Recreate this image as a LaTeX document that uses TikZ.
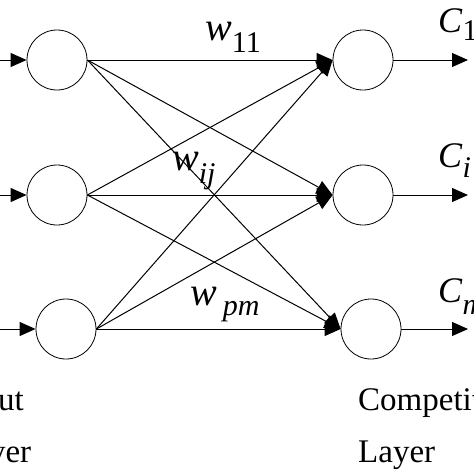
\documentclass[tikz,border=0pt]{standalone}
\usepackage{fontspec}
\setmainfont{Liberation Serif}
\usetikzlibrary{arrows.meta,positioning}
\tikzset{
neuron/.style = {draw, circle, line width=0.8pt, minimum size=60pt, inner sep=0pt},
tmp/.style    = {coordinate},
conn/.style   = {-{Triangle[length=16pt,width=14pt]}, line width=1pt},
wlab/.style   = {anchor=base west, inner sep=0pt, font=\fontsize{40}{48}\selectfont},
clab/.style   = {anchor=base west, inner sep=0pt, font=\fontsize{36}{44}\selectfont},
layerlab/.style = {anchor=base west, inner sep=0pt, align=left, font=\fontsize{33}{52}\selectfont}
}

\begin{document}
\begin{tikzpicture}[x=1pt, y=1pt]
  \useasboundingbox (0,0) rectangle (474,-474);

  % input layer
  \node [neuron] (in1) at (57,-60) {};
  \node [neuron, below of=in1, node distance=135pt]             (in2) {};
  \node [neuron, below of=in2, node distance=134pt, xshift=9pt] (in3) {};
  \node [tmp, left of=in1, node distance=70pt] (x1) {};
  \node [tmp, left of=in2, node distance=70pt] (x2) {};
  \node [tmp, left of=in3, node distance=79pt] (x3) {};

  % competitive layer
  \node [neuron, right of=in1, node distance=306pt] (out1) {};
  \node [neuron, right of=in2, node distance=306pt] (out2) {};
  \node [neuron, right of=in3, node distance=305pt] (out3) {};
  \node [tmp, right of=out1, node distance=105pt] (c1) {};
  \node [tmp, right of=out2, node distance=105pt] (c2) {};
  \node [tmp, right of=out3, node distance=97pt]  (c3) {};

  \draw [conn] (x1) -- (in1);
  \draw [conn] (x2) -- (in2);
  \draw [conn] (x3) -- (in3);
  \draw [conn] (out1) -- (c1);
  \draw [conn] (out2) -- (c2);
  \draw [conn] (out3) -- (c3);

  \draw [conn] (in1.east) -- (out1.west);
  \draw [conn] (in1.east) -- (out2.west);
  \draw [conn] (in1.east) -- (out3.west);
  \draw [conn] (in2.east) -- (out1.west);
  \draw [conn] (in2.east) -- (out2.west);
  \draw [conn] (in2.east) -- (out3.west);
  \draw [conn] (in3.east) -- (out1.west);
  \draw [conn] (in3.east) -- (out2.west);
  \draw [conn] (in3.east) -- (out3.west);

  % weights and outputs
  \node [wlab] (w11) at (205,-40)  {\textit{w}\raisebox{-12pt}{\fontsize{30}{36}\selectfont 11}};
  \node [wlab] (wij) at (172,-170) {\textit{w}\raisebox{-13pt}{\fontsize{30}{36}\selectfont\textit{ij}}};
  \node [wlab] (wpm) at (190,-305) {\textit{w}\hspace{6pt}\raisebox{-10pt}{\fontsize{30}{36}\selectfont\textit{pm}}};
  \node [clab] (C1) at (438,-32)  {\textit{C}\raisebox{-8pt}{\fontsize{30}{36}\selectfont 1}};
  \node [clab] (Ci) at (438,-167) {\textit{C}\raisebox{-10pt}{\fontsize{30}{36}\selectfont\textit{i}}};
  \node [clab] (Cm) at (438,-302) {\textit{C}\raisebox{-12pt}{\fontsize{30}{36}\selectfont\textit{m}}};

  \node [layerlab] (inlab)   at (-46,-462) {Input\\Layer};
  \node [layerlab] (complab) at (358,-462) {Competitive\\Layer};
\end{tikzpicture}
\end{document}
